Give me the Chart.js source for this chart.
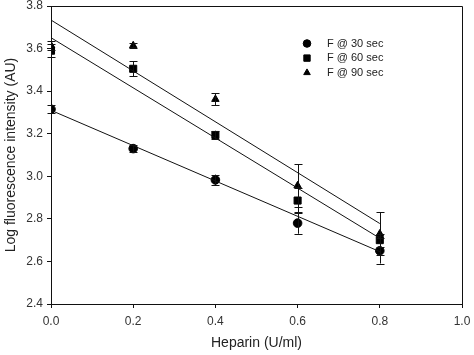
<!DOCTYPE html>
<html><head><meta charset="utf-8">
<script src="https://cdn.jsdelivr.net/npm/chart.js@4/dist/chart.umd.min.js"></script>
<style>html,body{margin:0;padding:0;background:#fff}#wrap{width:474px;height:355px;position:relative}</style>
</head><body><div id="wrap"><canvas id="c"></canvas></div>
<script>
const heparin = [0, 0.2, 0.4, 0.6, 0.8];
const f30 = [3.315, 3.13, 2.983, 2.78, 2.65];
const f30err = [0.02, 0.015, 0.025, 0.05, 0.06];
const f60 = [3.59, 3.505, 3.194, 2.886, 2.70];
const f60err = [0.03, 0.035, 0.02, 0.06, 0.03];
const f90 = [3.615, 3.614, 3.362, 2.956, 2.73];
const f90err = [0.02, 0.01, 0.027, 0.10, 0.10];
const fitX = [0, 0.8];
const fit30 = [3.31, 2.646];
const fit60 = [3.651, 2.709];
const fit90 = [3.734, 2.778];
const seriesLabels = ['F @ 30 sec', 'F @ 60 sec', 'F @ 90 sec'];
const pointStyles = ['circle', 'rect', 'triangle'];
const yTickValues = [2.4, 2.6, 2.8, 3.0, 3.2, 3.4, 3.6, 3.8];
const xTickValues = [0.0, 0.2, 0.4, 0.6, 0.8, 1.0];

const toPts = (xs, ys) => xs.map((x, i) => ({x: x, y: ys[i]}));
const FONT = "'Liberation Sans', Arial, sans-serif";

const seriesVals = [f30, f60, f90];
const seriesErr = [f30err, f60err, f90err];
const fits = [fit30, fit60, fit90];

const datasets = [];
fits.forEach((f, i) => datasets.push({
  label: 'fit' + i, data: toPts(fitX, f), showLine: true, borderColor: '#111',
  borderWidth: 1, pointRadius: 0, fill: false
}));
seriesVals.forEach((v, i) => datasets.push({
  label: seriesLabels[i], data: toPts(heparin, v), showLine: false,
  pointStyle: pointStyles[i], pointRadius: i === 1 ? 5 : 4.3,
  backgroundColor: '#000', borderColor: '#000', borderWidth: 1
}));

const errorBarPlugin = {
  id: 'errbars',
  afterDatasetsDraw(chart) {
    const ctx = chart.ctx, xs = chart.scales.x, ys = chart.scales.y;
    ctx.save();
    ctx.strokeStyle = '#111'; ctx.lineWidth = 1;
    seriesVals.forEach((v, si) => {
      v.forEach((val, k) => {
        const e = seriesErr[si][k];
        const px = Math.round(xs.getPixelForValue(heparin[k])) + 0.5;
        const y1 = ys.getPixelForValue(val + e), y2 = ys.getPixelForValue(val - e);
        ctx.beginPath();
        ctx.moveTo(px, y1); ctx.lineTo(px, y2);
        ctx.moveTo(px - 4, Math.round(y1) + 0.5); ctx.lineTo(px + 4, Math.round(y1) + 0.5);
        ctx.moveTo(px - 4, Math.round(y2) + 0.5); ctx.lineTo(px + 4, Math.round(y2) + 0.5);
        ctx.stroke();
      });
    });
    ctx.restore();
  }
};

const framePlugin = {
  id: 'frame',
  afterDraw(chart) {
    const ctx = chart.ctx, a = chart.chartArea;
    ctx.save();
    ctx.strokeStyle = '#111'; ctx.lineWidth = 1;
    ctx.beginPath();
    ctx.moveTo(Math.round(a.left), Math.round(a.top) + 0.5);
    ctx.lineTo(Math.round(a.right) + 0.5, Math.round(a.top) + 0.5);
    ctx.lineTo(Math.round(a.right) + 0.5, Math.round(a.bottom));
    ctx.stroke();
    // legend
    ctx.font = '11px ' + FONT;
    ctx.fillStyle = '#222';
    ctx.textBaseline = 'middle';
    const lx = 307, tx = 327, ly0 = 43.5, dy = 14.6;
    seriesLabels.forEach((lab, i) => {
      const y = ly0 + i * dy;
      ctx.save();
      ctx.fillStyle = '#000'; ctx.strokeStyle = '#000';
      Chart.helpers.drawPoint(ctx, {pointStyle: pointStyles[i], radius: i === 1 ? 4.5 : 3.8, borderWidth: 1}, lx, y);
      ctx.restore();
      ctx.fillText(lab, tx, y);
    });
    ctx.restore();
  }
};

new Chart(document.getElementById('c'), {
  type: 'scatter',
  data: { datasets },
  plugins: [errorBarPlugin, framePlugin],
  options: {
    responsive: true, maintainAspectRatio: false, animation: false,
    layout: { padding: { top: 6, right: 12, left: 0, bottom: 0 } },
    plugins: { legend: { display: false }, tooltip: { enabled: false } },
    scales: {
      x: {
        type: 'linear', min: 0, max: 1,
        afterBuildTicks: s => { s.ticks = xTickValues.map(v => ({value: v})); },
        afterFit: s => { s.height = 51; s.paddingLeft = 0; s.paddingRight = 0; },
        grid: { display: true, drawOnChartArea: false, drawTicks: true, tickLength: 4, color: '#111' },
        border: { display: true, color: '#111', width: 1 },
        ticks: { color: '#333', font: { family: FONT, size: 12, lineHeight: 1 }, padding: 8,
                 callback: v => Number(v).toFixed(1) },
        title: { display: true, text: 'Heparin (U/ml)', color: '#222',
                 font: { family: FONT, size: 14 }, padding: { top: 2, bottom: 3 } }
      },
      y: {
        type: 'linear', min: 2.4, max: 3.8,
        afterBuildTicks: s => { s.ticks = yTickValues.map(v => ({value: v})); },
        afterFit: s => { s.width = 51; s.paddingTop = 0; s.paddingBottom = 0; },
        grid: { display: true, drawOnChartArea: false, drawTicks: true, tickLength: 4, color: '#111' },
        border: { display: true, color: '#111', width: 1 },
        ticks: { color: '#333', font: { family: FONT, size: 12, lineHeight: 1 }, padding: 4,
                 callback: v => Number(v).toFixed(1) },
        title: { display: true, text: 'Log fluorescence intensity (AU)', color: '#222',
                 font: { family: FONT, size: 14 }, padding: { top: 3, bottom: 2 } }
      }
    }
  }
});
</script></body></html>
